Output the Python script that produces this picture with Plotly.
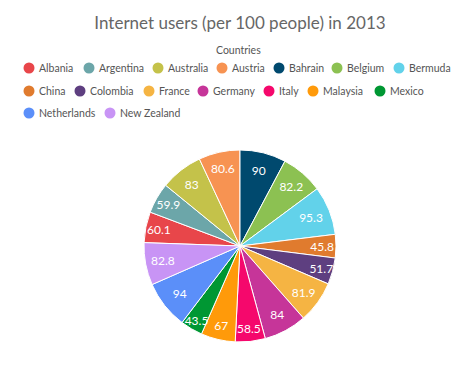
import plotly.graph_objects as go

countries = ["Albania", "Argentina", "Australia", "Austria", "Bahrain", "Belgium", "Bermuda",
             "China", "Colombia", "France", "Germany", "Italy", "Malaysia", "Mexico",
             "Netherlands", "New Zealand"]
users = [60.1, 59.9, 83, 80.6, 90, 82.2, 95.3, 45.8, 51.7, 81.9, 84, 58.5, 67, 43.5, 94, 82.8]
colors = ["#E8464A", "#6CA6A9", "#C4C24A", "#F79352", "#00496E", "#8CC152", "#62D2EA",
          "#E07B2E", "#5E3F80", "#F5B443", "#C63599", "#F5086C", "#FF9A0A", "#009733",
          "#5B8FF9", "#C894F5"]

# page layout: the figure sits 8px in from the page corner (body margin)
OFF = 8
W, H = 474 - OFF, 367 - OFF
legend_rows = [7, 7, 2]
legend_marker_x = [29, 89, 158, 222, 279, 337, 399,
                   29, 80, 149, 203, 269, 313, 380,
                   29, 110]
legend_row_y = [68, 91, 113]
FONT = "Segoe UI, Lato, sans-serif"


def px2x(px):
    return (px - OFF) / W


def px2y(py):
    return 1 - (py - OFF) / H


# first slice start so that Bahrain begins at 12 o'clock
total = sum(users)
start = -sum(users[:4]) / total * 360

fig = go.Figure()
fig.add_trace(go.Pie(
    labels=countries, values=users, sort=False, direction="clockwise", rotation=start,
    marker=dict(colors=colors, line=dict(color="white", width=1)),
    textinfo="value", textposition="inside", insidetextorientation="horizontal",
    textfont=dict(color="white", size=12, family=FONT),
    showlegend=False, hoverinfo="label+value",
    domain=dict(x=[px2x(144), px2x(336)], y=[px2y(342), px2y(150)]),
))

shapes, annotations = [], []
i = 0
for r, n in enumerate(legend_rows):
    for _ in range(n):
        px, py = px2x(legend_marker_x[i]), px2y(legend_row_y[r])
        shapes.append(dict(type="circle", xref="paper", yref="paper",
                           xsizemode="pixel", ysizemode="pixel",
                           xanchor=px, yanchor=py, x0=-5.5, x1=5.5, y0=-5.5, y1=5.5,
                           fillcolor=colors[i], line=dict(width=0)))
        annotations.append(dict(text=countries[i], xref="paper", yref="paper",
                                x=px, y=py, xshift=8, xanchor="left", yanchor="middle",
                                showarrow=False,
                                font=dict(family=FONT, size=10.5, color="#555555")))
        i += 1
annotations.append(dict(text="Countries", xref="paper", yref="paper", x=px2x(238),
                        y=px2y(50), xanchor="center", yanchor="middle", showarrow=False,
                        font=dict(family=FONT, size=10.5, color="#555555")))

fig.update_layout(
    width=W, height=H,
    margin=dict(l=0, r=0, t=0, b=0),
    paper_bgcolor="white", plot_bgcolor="white",
    title=dict(text="Internet users (per 100 people) in 2013", x=px2x(240), xanchor="center",
               y=px2y(23), yanchor="middle",
               font=dict(family=FONT, size=17, color="#666666")),
    uniformtext=dict(minsize=12, mode="show"),
    shapes=shapes, annotations=annotations,
    showlegend=False,
)
fig.write_html("out.html")
